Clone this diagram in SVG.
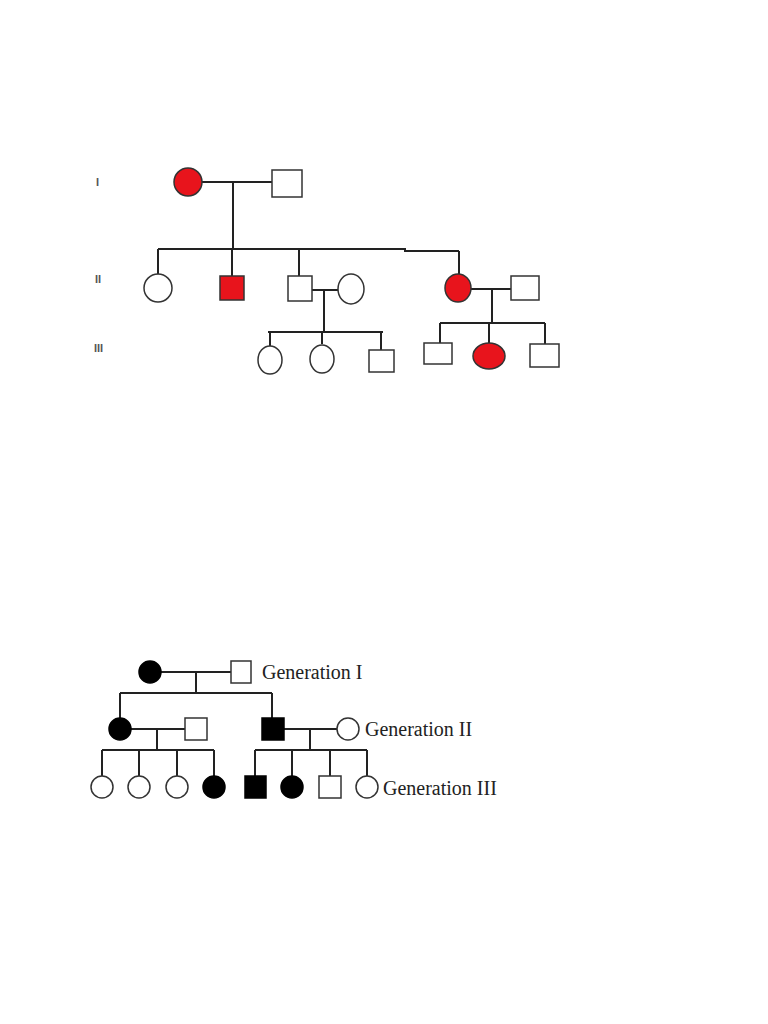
<svg xmlns="http://www.w3.org/2000/svg" width="768" height="1024" viewBox="0 0 768 1024">
<style>
.l{stroke:#222;stroke-width:2;fill:none}
.o{fill:#fff;stroke:#333;stroke-width:1.5}
.r{fill:#e8141c;stroke:#333;stroke-width:1.5}
.k{fill:#000;stroke:#000;stroke-width:1.5}
.g{font-family:"Liberation Serif",serif;font-size:20px;fill:#222}
.t{font-family:"Liberation Sans",sans-serif;font-size:11px;fill:#555;font-weight:bold}
</style>
<rect width="768" height="1024" fill="#fff"/>
<text class="t" x="96" y="186">I</text>
<text class="t" x="95" y="283">II</text>
<text class="t" x="94" y="352">III</text>
<g id="connectors">
<path class="l" d="M202 182H272M233 182V249M158 249H405V251H459M158 249V275M232 249V276M299 249V276M459 251V274M312 290H338M324 290V332M268 332H383M270 332V346M322 332V344M381 332V350M471 289H511M492 289V323M440 323H545M440 323V343M489 323V343M545 323V344"/>
<path class="l" d="M161 672H231M196 672V693M120 693H272M120 693V718M272 693V718M131 729H185M157 729V750M284 729H337M310 729V750M102 750H214M102 750V776M139 750V776M177 750V776M214 750V776M255 750H367M255 750V776M292 750V776M330 750V776M367 750V776"/>
</g>
<g id="p1"><ellipse class="r" cx="188" cy="182" rx="14" ry="14"/></g>
<g id="p2"><rect class="o" x="272" y="170" width="30" height="27"/></g>
<g id="p3"><ellipse class="o" cx="158" cy="288" rx="14" ry="14"/></g>
<g id="p4"><rect class="r" x="220" y="276" width="24" height="24"/></g>
<g id="p5"><rect class="o" x="288" y="276" width="24" height="25"/></g>
<g id="p6"><ellipse class="o" cx="351" cy="289" rx="13" ry="15"/></g>
<g id="p7"><ellipse class="r" cx="458" cy="288" rx="13" ry="14"/></g>
<g id="p8"><rect class="o" x="511" y="276" width="28" height="24"/></g>
<g id="p9"><ellipse class="o" cx="270" cy="360" rx="12" ry="14"/></g>
<g id="p10"><ellipse class="o" cx="322" cy="359" rx="12" ry="14"/></g>
<g id="p11"><rect class="o" x="369" y="350" width="25" height="22"/></g>
<g id="p12"><rect class="o" x="424" y="343" width="28" height="21"/></g>
<g id="p13"><ellipse class="r" cx="489" cy="356" rx="16" ry="13"/></g>
<g id="p14"><rect class="o" x="530" y="344" width="29" height="23"/></g>
<g id="q1"><circle class="k" cx="150" cy="672" r="11"/></g>
<g id="q2"><rect class="o" x="231" y="661" width="20" height="22"/></g>
<text class="g" x="262" y="679">Generation I</text>
<g id="q3"><circle class="k" cx="120" cy="729" r="11"/></g>
<g id="q4"><rect class="o" x="185" y="718" width="22" height="22"/></g>
<g id="q5"><rect class="k" x="262" y="718" width="22" height="22"/></g>
<g id="q6"><circle class="o" cx="348" cy="729" r="11"/></g>
<text class="g" x="365" y="736">Generation II</text>
<g id="q7"><circle class="o" cx="102" cy="787" r="11"/></g>
<g id="q8"><circle class="o" cx="139" cy="787" r="11"/></g>
<g id="q9"><circle class="o" cx="177" cy="787" r="11"/></g>
<g id="q10"><circle class="k" cx="214" cy="787" r="11"/></g>
<g id="q11"><rect class="k" x="245" y="776" width="21" height="22"/></g>
<g id="q12"><circle class="k" cx="292" cy="787" r="11"/></g>
<g id="q13"><rect class="o" x="319" y="776" width="22" height="22"/></g>
<g id="q14"><circle class="o" cx="367" cy="787" r="11"/></g>
<text class="g" x="383" y="795">Generation III</text>
</svg>
